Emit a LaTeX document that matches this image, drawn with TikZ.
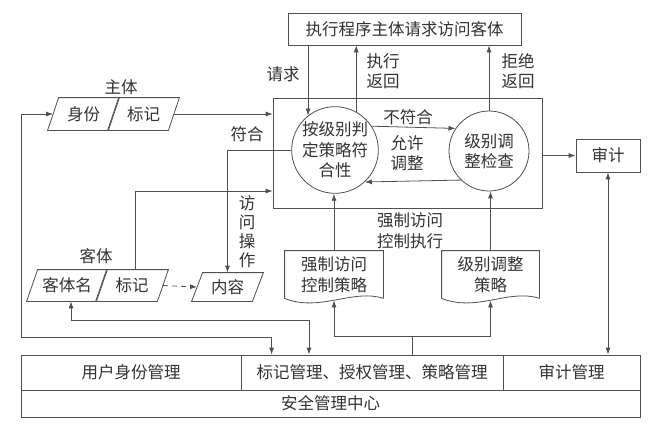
\documentclass[tikz,border=0pt]{standalone}
\usepackage{fontspec}
\setmainfont{Noto Sans CJK SC}
\usetikzlibrary{shapes.geometric,arrows.meta,calc}
\definecolor{lc}{HTML}{505050}
\definecolor{tc}{HTML}{333333}
\newcommand{\docpath}[1]{\draw (#1.south east) -- (#1.north east) -- (#1.north west) -- (#1.south west) .. controls ($(#1.south west)+(35,14)$) and ($(#1.south east)+(-30,-10)$) .. (#1.south east);}
\newcommand{\parapath}[1]{\draw ($(#1.south west)+(-5.5,0)$) -- ($(#1.north west)+(5.5,0)$) -- ($(#1.north east)+(5.5,0)$) -- ($(#1.south east)+(-5.5,0)$) -- cycle;}
\begin{document}
\begin{tikzpicture}[x=1pt,y=-1pt,line width=0.8pt,color=lc,
  every node/.style={font=\fontsize{16.5}{20.5}\selectfont,text=tc},
  box/.style={draw=lc,rectangle,inner sep=0pt},
  para/.style={rectangle,inner sep=0pt},
  circ/.style={draw=lc,circle,minimum size=80pt,inner sep=0pt,align=center},
  lab/.style={align=center,inner sep=0pt},
  arr/.style={-{Latex[length=7pt,width=5pt]}},
  dbl/.style={{Latex[length=7pt,width=5pt]}-{Latex[length=7pt,width=5pt]}}]
\fill[white] (0,0) rectangle (660,426);
\useasboundingbox (0,0) rectangle (660,426);
% boxes
\node[box,minimum width=233pt,minimum height=32pt] (topbox) at (404.5,29) {执行程序主体请求访问客体};
\node[box,minimum width=269pt,minimum height=110pt] (bigbox) at (407.5,153) {};
\node[circ] (c1) at (335,150) {按级别判\\定策略符\\合性};
\node[circ] (c2) at (489,151) {级别调\\整检查};
\node[box,minimum width=64pt,minimum height=33pt] (audit) at (608,155.5) {审计};
% subject / object
\node[para,minimum width=60pt,minimum height=32pt] (sb1) at (83.5,114) {身份};
\node[para,minimum width=60pt,minimum height=32pt] (sb2) at (143.5,114) {标记};
\node[para,minimum width=69pt,minimum height=31pt] (ob1) at (67,285.5) {客体名};
\node[para,minimum width=61pt,minimum height=31pt] (ob2) at (132,285.5) {标记};
\node[para,minimum width=60pt,minimum height=28pt] (cont) at (227.5,287) {内容};
\parapath{sb1}
\parapath{sb2}
\parapath{ob1}
\parapath{ob2}
\parapath{cont}
% documents
\node[lab,minimum width=98pt,minimum height=47pt] (d1) at (334,274.5) {强制访问\\控制策略};
\node[lab,minimum width=97pt,minimum height=47pt] (d2) at (490.5,274.5) {级别调整\\策略};
\docpath{d1}
\docpath{d2}
% bottom
\node[box,minimum width=220pt,minimum height=35pt] (um) at (131,372.5) {用户身份管理};
\node[box,minimum width=262pt,minimum height=35pt] (tm) at (372,372.5) {标记管理、授权管理、策略管理};
\node[box,minimum width=137pt,minimum height=35pt] (am) at (571.5,372.5) {审计管理};
\node[box,minimum width=619pt,minimum height=27pt] (sc) at (330.5,403.5) {安全管理中心};
% labels
\node[lab] (lzt) at (121,87) {主体};
\node[lab] (lkt) at (96,256) {客体};
\node[lab] (lqq) at (283,74) {请求};
\node[lab] (lzx) at (383,71) {执行\\返回};
\node[lab] (ljj) at (518,71) {拒绝\\返回};
\node[lab] (lbf) at (408,117) {不符合};
\node[lab] (lyx) at (407,153) {允许\\调整};
\node[lab] (lfh) at (247,134) {符合};
\node[lab,font=\fontsize{16.5}{19}\selectfont] (lfw) at (247,232) {访\\问\\操\\作};
\node[lab] (lqz) at (410,231) {强制访问\\控制执行};
% connectors
\draw[arr] (topbox.south -| c1.128.7) -- (c1.128.7);
\draw[arr] (c1.61.6) -- (c1.61.6 |- topbox.south);
\draw[arr] (c2.north) -- (c2.north |- topbox.south);
\draw[arr] (c1.33.4) -- (c2.146.6);
\draw[arr] (c2.226.5) -- (c1.313.5);
\draw[arr] (c1.west) -| (cont.north);
\draw[arr] (sb2.east) -- (sb2.east -| bigbox.west);
\coordinate (lp) at (21,337);
\draw[dbl] (sb1.west) -| (lp) -| ($(tm.north west)+(31,0)$);
\draw[arr] ($(ob2.north)+(3,0)$) |- (bigbox.west |- 0,191);
\draw[arr,dash pattern=on 5pt off 4pt] (ob2.east) -- (cont.west);
\coordinate (ob3) at (309,320);
\draw[dbl] ($(ob1.south)+(4,0)$) |- (ob3) -- (ob3 |- tm.north);
\coordinate (br) at (412,336);
\draw (br |- tm.north) -- (br);
\draw[arr] (br) -| ([yshift=-2pt]d1.south);
\draw[arr] (br) -| ([yshift=-2pt]d2.south);
\draw[arr] (d1.north) -- (d1.north |- c1.south);
\draw[arr] (d2.north) -- (d2.north |- c2.south);
\draw[arr] (bigbox.east |- audit.west) -- (audit.west);
\draw[dbl] (audit.south) -- (audit.south |- am.north);
\end{tikzpicture}
\end{document}
